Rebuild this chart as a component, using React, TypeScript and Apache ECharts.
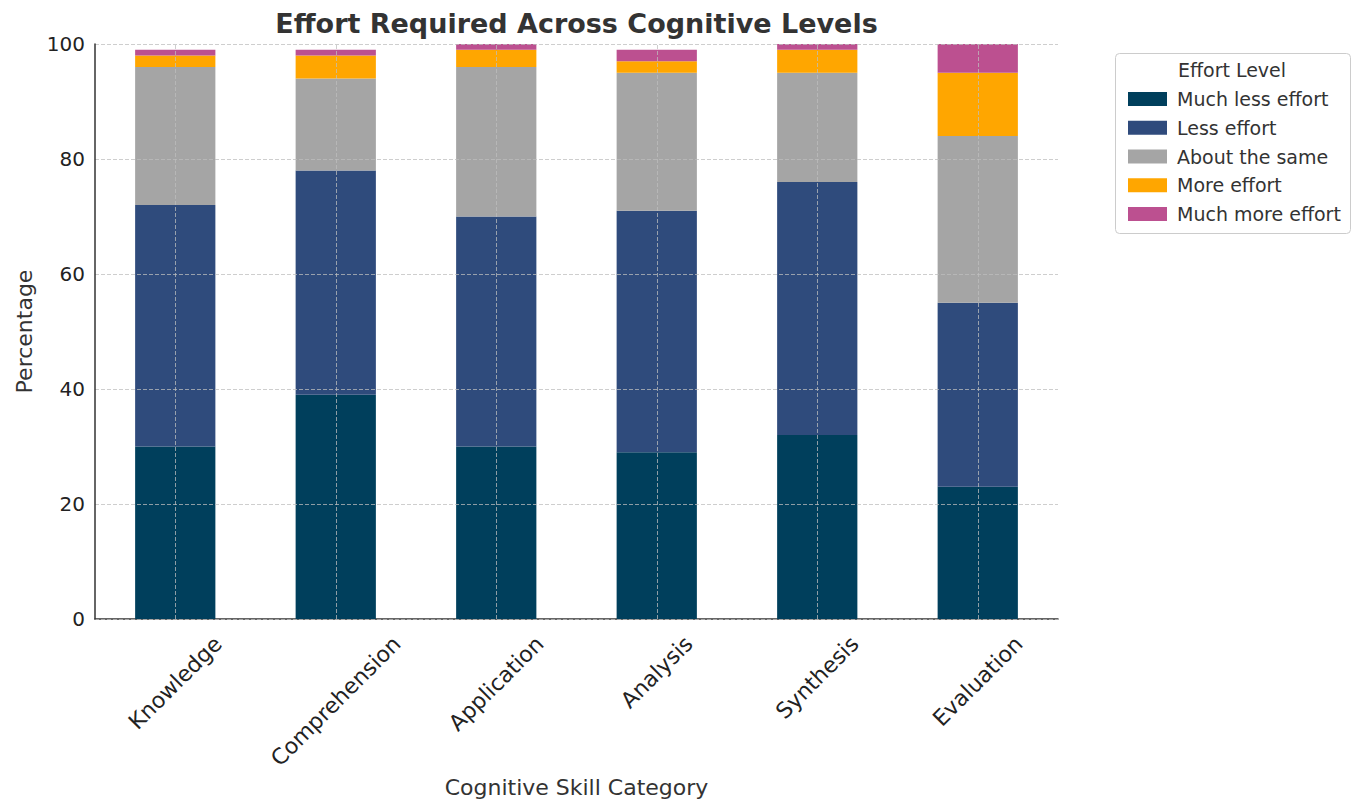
import React, { useEffect, useRef } from "react";
import * as echarts from "echarts";

// Categories and stacked shares (percent) per effort level
const categories = ["Knowledge", "Comprehension", "Application", "Analysis", "Synthesis", "Evaluation"];
const muchLessEffort = [30, 39, 30, 29, 32, 23];
const lessEffort = [42, 39, 40, 42, 44, 32];
const aboutTheSame = [24, 16, 26, 24, 19, 29];
const moreEffort = [2, 4, 3, 2, 4, 11];
const muchMoreEffort = [1, 1, 1, 2, 1, 5];

const seriesNames = ["Much less effort", "Less effort", "About the same", "More effort", "Much more effort"];
const seriesColors = ["#003f5c", "#2f4b7c", "#a5a5a5", "#ffa600", "#bc5090"];
const seriesValues = [muchLessEffort, lessEffort, aboutTheSame, moreEffort, muchMoreEffort];

const FONT = '"DejaVu Sans", Verdana, sans-serif';
const TEXT = "#333333";
const GRID = "rgba(190,190,190,0.75)";

const PLOT = { left: 95, right: 1058, top: 44, bottom: 619 };
const XLABEL_SIZE = 22;

function measure(text: string, size: number): number {
  const c = document.createElement("canvas");
  const ctx = c.getContext("2d");
  if (!ctx) return text.length * size * 0.6;
  ctx.font = `${size}px ${FONT}`;
  return ctx.measureText(text).width;
}

export default function App() {
  const ref = useRef<HTMLDivElement>(null);

  useEffect(() => {
    document.body.style.margin = "0";
    if (!ref.current) return;
    const chart = echarts.init(ref.current, null, { renderer: "svg" });

    const series: any[] = seriesNames.map((name, i) => ({
      name,
      type: "bar",
      stack: "total",
      barWidth: "50%",
      data: seriesValues[i],
      itemStyle: { color: seriesColors[i] },
      emphasis: { disabled: true },
    }));
    // Vertical dashed grid lines through each bar centre, drawn over the bars
    series[series.length - 1].markLine = {
      silent: true,
      symbol: ["none", "none"],
      label: { show: false },
      z: 5,
      lineStyle: { type: [4, 2], color: GRID, width: 1 },
      data: categories.map((c) => ({ xAxis: c })),
    };

    const staticGraphics: any[] = [
      {
        type: "text",
        x: (PLOT.left + PLOT.right) / 2,
        y: 23,
        style: {
          text: "Effort Required Across Cognitive Levels",
          align: "center",
          verticalAlign: "middle",
          font: `bold 27px ${FONT}`,
          fill: TEXT,
        },
      },
      {
        type: "rect",
        shape: { x: 1115.5, y: 53.5, width: 235, height: 180, r: 4 },
        style: { fill: "rgba(255,255,255,0.8)", stroke: "#cccccc", lineWidth: 1 },
        z: -1,
      },
      {
        type: "text",
        x: 1232,
        y: 70,
        style: {
          text: "Effort Level",
          align: "center",
          verticalAlign: "middle",
          font: `19px ${FONT}`,
          fill: TEXT,
        },
      },
    ];

    chart.setOption({
      animation: false,
      textStyle: { fontFamily: FONT },
      grid: {
        left: PLOT.left,
        right: 1359 - PLOT.right,
        top: PLOT.top,
        bottom: 800 - PLOT.bottom,
        containLabel: false,
        outerBoundsMode: "none",
      },
      legend: {
        orient: "vertical",
        left: 1123,
        top: 84,
        icon: "rect",
        itemWidth: 39,
        itemHeight: 14,
        itemGap: 8.75,
        data: seriesNames,
        textStyle: { color: TEXT, fontSize: 19, lineHeight: 20, padding: [0, 0, 0, 5], fontFamily: FONT },
        selectedMode: false,
      },
      xAxis: {
        type: "category",
        data: categories,
        name: "Cognitive Skill Category",
        nameLocation: "middle",
        nameGap: 157,
        nameMoveOverlap: false,
        nameTextStyle: { fontSize: 22, color: TEXT, fontFamily: FONT },
        axisLine: { show: true, lineStyle: { color: "#333333", width: 1.5 } },
        axisTick: { show: false },
        axisLabel: { show: false },
        splitLine: { show: false },
      },
      yAxis: {
        type: "value",
        min: 0,
        max: 100,
        interval: 20,
        z: 4,
        name: "Percentage",
        nameLocation: "middle",
        nameGap: 60,
        nameMoveOverlap: false,
        nameTextStyle: { fontSize: 22, color: TEXT, fontFamily: FONT },
        axisLine: { show: true, lineStyle: { color: "#333333", width: 1.5 } },
        axisTick: { show: false },
        axisLabel: { fontSize: 20, color: "#222222", margin: 10, fontFamily: FONT },
        splitLine: { show: true, lineStyle: { type: [4, 2], color: GRID, width: 1 } },
      },
      graphic: staticGraphics,
      series,
    });

    // Category labels rotated 45°, each centred on its bar with the rotated box hanging below the axis
    const lineH = XLABEL_SIZE * 1.16;
    const labelTop = PLOT.bottom + 12;
    const labelGraphics = categories.map((c) => {
      const w = measure(c, XLABEL_SIZE);
      const boxH = (w + lineH) * Math.SQRT1_2;
      const px = chart.convertToPixel({ xAxisIndex: 0 }, c) as number;
      return {
        type: "text",
        x: px,
        y: labelTop + boxH / 2,
        rotation: Math.PI / 4,
        style: {
          text: c,
          align: "center",
          verticalAlign: "middle",
          font: `${XLABEL_SIZE}px ${FONT}`,
          fill: "#222222",
        },
      };
    });
    chart.setOption({ graphic: [...staticGraphics, ...labelGraphics] }, { replaceMerge: ["graphic"] });

    return () => chart.dispose();
  }, []);

  return <div ref={ref} style={{ width: 1359, height: 800 }} />;
}
